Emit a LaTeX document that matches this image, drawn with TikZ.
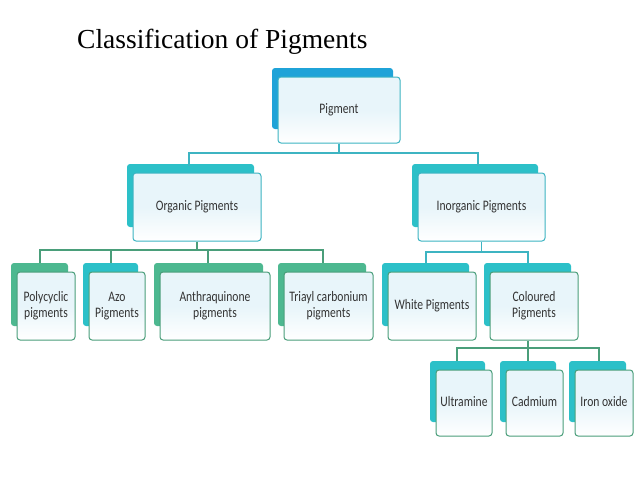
\documentclass[tikz,border=0pt]{standalone}
\usepackage{fontspec}
\usepackage{graphicx}
\setmainfont{Liberation Serif}
\newfontfamily\boxfont{Carlito}
\definecolor{cblue}{HTML}{1FA3D8}
\definecolor{cteal}{HTML}{2CC0C8}
\definecolor{cgreen}{HTML}{4DB890}
\definecolor{lteal}{HTML}{3DB4C2}
\definecolor{lgreen}{HTML}{4A9E7A}
\definecolor{ffill}{HTML}{E8F5FA}
\newcommand{\pbox}[8]{%
  \fill[#6,rounded corners=3pt] (#2-6,#3-9) rectangle (#4-7,#5-14);
  \node[front,draw=#7,minimum width=#4-#2,minimum height=#5-#3] (#1) at ({(#2+#4)/2},{(#3+#5)/2}) {\scalebox{0.8}[1]{\begin{tabular}{@{}c@{}}#8\end{tabular}}};}
\begin{document}
\begin{tikzpicture}[x=1pt,y=-1pt,
  front/.style={rectangle,rounded corners=3pt,line width=1pt,top color=ffill,bottom color=white,
    middle color=ffill,inner sep=0pt,align=center,font=\boxfont\fontsize{14.5}{16}\selectfont,text=black!80},
  conT/.style={lteal,line width=1.2pt},
  conG/.style={lgreen,line width=1.2pt}]
\useasboundingbox[fill=white] (0,0) rectangle (638,479);
\node[anchor=base west,font=\fontsize{27.5}{30}\selectfont,inner sep=0pt] (title) at (77,48) {Classification of Pigments};
\pbox{pig}{278}{77}{400}{143}{cblue}{lteal}{Pigment}
\pbox{org}{133}{173}{261}{241}{cteal}{lteal}{Organic Pigments}
\pbox{inorg}{418}{173}{545}{241}{cteal}{lteal}{Inorganic Pigments}
\pbox{poly}{17}{272}{75}{340}{cgreen}{lgreen}{Polycyclic\\pigments}
\pbox{azo}{89}{272}{145}{340}{cteal}{lgreen}{Azo\\Pigments}
\pbox{anth}{160}{272}{270}{340}{cgreen}{lgreen}{Anthraquinone\\pigments}
\pbox{tri}{284}{272}{373}{340}{cgreen}{lgreen}{Triayl carbonium\\pigments}
\pbox{white}{388}{272}{476}{340}{cteal}{lgreen}{White Pigments}
\pbox{col}{490}{272}{578}{340}{cteal}{lgreen}{Coloured\\Pigments}
\pbox{ultra}{436}{370}{492}{436}{cteal}{lgreen}{Ultramine}
\pbox{cad}{506}{370}{563}{436}{cteal}{lgreen}{Cadmium}
\pbox{iron}{575}{370}{633}{436}{cteal}{lgreen}{Iron oxide}
\coordinate (j1) at (339,153);
\draw[conT] (pig.south) -- (j1) -| (189,166);
\draw[conT] (j1) -| (478,166);
\coordinate (j2) at (197,250);
\draw[conG] (org.south) -- (j2);
\draw[conG] (j2) -| (40,263);
\draw[conG] (j2) -| (111,263);
\draw[conG] (j2) -| (208,263);
\draw[conG] (j2) -| (323,263);
\coordinate (j3) at (481.5,252);
\draw[conT] (inorg.south) -- (j3);
\draw[conT] (j3) -| (426,263);
\draw[conT] (j3) -| (528,263);
\coordinate (j4) at (528,348);
\draw[conG] (col.south -| j4) -- (j4);
\draw[conG] (j4) -| (457,361);
\draw[conG] (j4) -- (528,361);
\draw[conG] (j4) -| (599,361);
\end{tikzpicture}
\end{document}
